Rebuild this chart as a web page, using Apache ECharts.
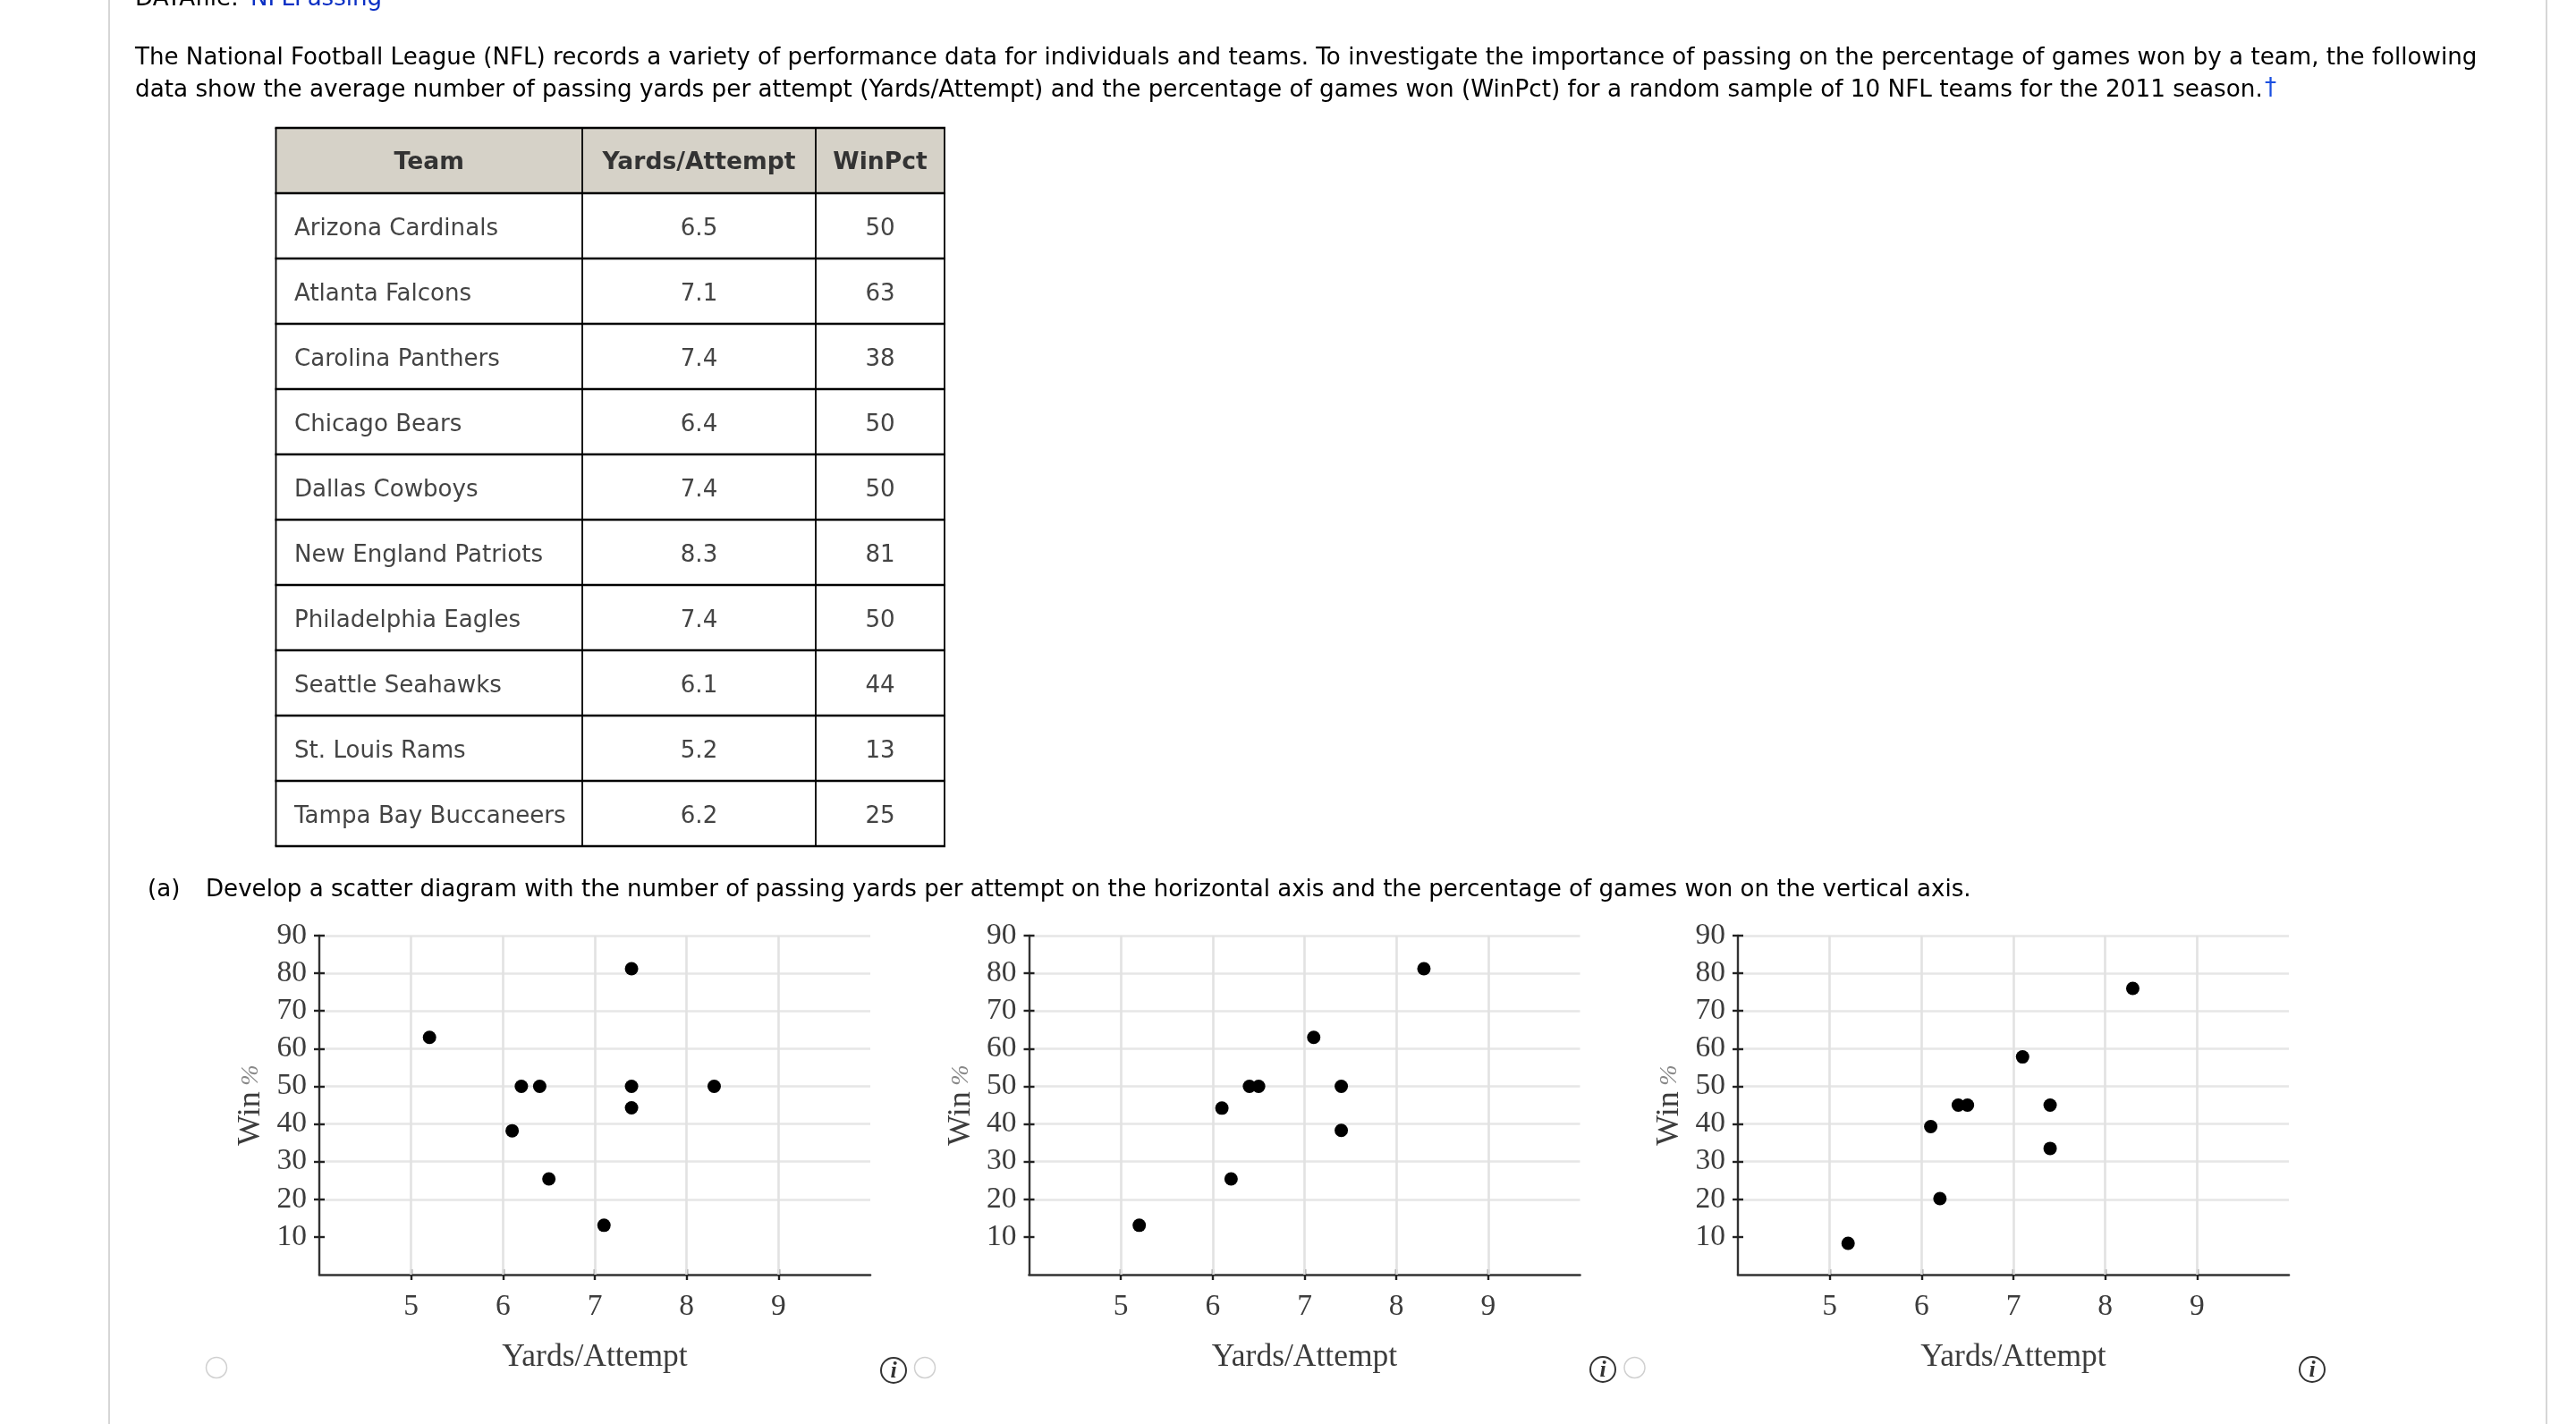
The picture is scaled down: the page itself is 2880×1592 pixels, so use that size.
<!DOCTYPE html>
<html><head><meta charset="utf-8">
<style>html,body{margin:0;padding:0;background:#fff}#c{width:2880px;height:1592px}</style>
<script src="https://cdn.jsdelivr.net/npm/echarts@6/dist/echarts.min.js"></script>
</head><body><div id="c"></div>
<script>
const teams = ['Arizona Cardinals','Atlanta Falcons','Carolina Panthers','Chicago Bears','Dallas Cowboys','New England Patriots','Philadelphia Eagles','Seattle Seahawks','St. Louis Rams','Tampa Bay Buccaneers'];
const yardsPerAttempt = ['6.5','7.1','7.4','6.4','7.4','8.3','7.4','6.1','5.2','6.2'];
const winPct = ['50','63','38','50','50','81','50','44','13','25'];
const tableHeader = ['Team','Yards/Attempt','WinPct'];

const xA = [5.2,6.2,6.4,6.1,6.5,7.1,7.4,7.4,7.4,8.3];
const yA = [63,50,50,38.2,25.4,13.1,81.2,50,44.3,50];
const xB = [6.5,7.1,7.4,6.4,7.4,8.3,6.1,5.2,6.2];
const yB = [50,63,38.3,50,50,81.2,44.2,13.1,25.4];
const xC = [5.2,6.1,6.2,6.4,6.5,7.1,7.4,7.4,8.3];
const yC = [8.3,39.3,20.2,45,45,57.8,45,33.5,76];
const xTicks = [5,6,7,8,9];
const yTicks = [10,20,30,40,50,60,70,80,90];

const intro1 = 'The National Football League (NFL) records a variety of performance data for individuals and teams. To investigate the importance of passing on the percentage of games won by a team, the following';
const intro2 = 'data show the average number of passing yards per attempt (Yards/Attempt) and the percentage of games won (WinPct) for a random sample of 10 NFL teams for the 2011 season.';
const question = 'Develop a scatter diagram with the number of passing yards per attempt on the horizontal axis and the percentage of games won on the vertical axis.';

const SANS = '"DejaVu Sans"', SERIF = '"Liberation Serif"';
const bodySize = 26.1;
const g = [];
function txt(s,x,y,o){o=o||{};g.push({type:'text',x,y,z:10,style:{text:s,fill:o.fill||'#000',textAlign:o.align||'left',textVerticalAlign:'middle',font:(o.weight||'normal')+' '+(o.size||bodySize)+'px '+(o.family||SANS)}});}
function ln(x1,y1,x2,y2,c,w){g.push({type:'line',z:5,shape:{x1,y1,x2,y2},style:{stroke:c,lineWidth:w}});}

ln(122,0,122,1592,'#c8c8c8',1.5);
ln(2847,0,2847,1592,'#c8c8c8',1.5);

txt('DATAfile:',151,-1);
txt('NFLPassing',280,-1,{fill:'#0a2fc4'});
txt(intro1,151,65,{size:26.12});
txt(intro2,151,101,{size:26.24});
txt('†',2532,99,{fill:'#1a4fe0'});

const colX=[308.5,651,912,1056], rowY0=143, rowH=73;
g.push({type:'rect',z:1,shape:{x:colX[0],y:rowY0,width:colX[3]-colX[0],height:rowH},style:{fill:'#d6d2c8'}});
tableHeader.forEach((h,i)=>txt(h,(colX[i]+colX[i+1])/2,rowY0+rowH/2+3,{align:'center',weight:'bold',fill:'#333',size:26.6}));
teams.forEach((t,i)=>{
  const cy=rowY0+rowH*(i+1)+rowH/2+3.5;
  txt(t,329,cy,{fill:'#444'});
  txt(yardsPerAttempt[i],(colX[1]+colX[2])/2,cy,{align:'center',fill:'#444'});
  txt(winPct[i],(colX[2]+colX[3])/2,cy,{align:'center',fill:'#444'});
});
for(let i=0;i<=11;i++) ln(colX[0]-1,rowY0+rowH*i,colX[3]+1,rowY0+rowH*i,'#000',2.6);
colX.forEach(x=>ln(x,rowY0,x,rowY0+rowH*11,'#000',1.8));

txt('(a)',165,995);
txt(question,230,995);

[[242,1529],[1034,1529],[1827.5,1529]].forEach(p=>g.push({type:'circle',z:5,shape:{cx:p[0],cy:p[1],r:11.5},style:{fill:'#fff',stroke:'#d0d0d0',lineWidth:1.5}}));
[[999,1532],[1792,1531],[2585,1531]].forEach(p=>{
  g.push({type:'circle',z:5,shape:{cx:p[0],cy:p[1],r:14},style:{fill:'#fff',stroke:'#333',lineWidth:2}});
  txt('i',p[0],p[1]+1,{align:'center',family:SERIF,size:26,weight:'italic bold',fill:'#333'});
});

const lefts=[357,1150.5,1943], gridTop=1046, W=616, H=379;
const grids=[],xAxes=[],yAxes=[],series=[];
const labelFill='#3c3c3c';
[[xA,yA],[xB,yB],[xC,yC]].forEach((d,i)=>{
  grids.push({left:lefts[i],top:gridTop,width:W,height:H});
  const base={type:'value',gridIndex:i};
  xAxes.push({...base,position:'bottom',min:4,max:10,interval:1,name:'Yards/Attempt',nameLocation:'middle',nameGap:75,
    nameTextStyle:{fontFamily:SERIF,fontSize:35.5,color:labelFill},
    axisLine:{show:true,onZero:false,lineStyle:{color:'#333',width:2.6}},
    axisTick:{show:true,customValues:xTicks,length:6,lineStyle:{color:'#222',width:2.4}},
    axisLabel:{show:true,customValues:xTicks,margin:19.5,fontFamily:SERIF,fontSize:33.5,color:labelFill},
    splitLine:{show:false}});
  xAxes.push({...base,position:'bottom',min:4,max:10,interval:1,axisLine:{show:false,onZero:false},axisLabel:{show:false},splitLine:{show:false},
    axisTick:{show:true,inside:true,customValues:xTicks,length:6,lineStyle:{color:'#222',width:2.4}}});
  yAxes.push({...base,position:'left',min:0,max:90,interval:10,name:'{w|Win}\u00a0{p|%}',nameLocation:'middle',nameGap:58,nameRotate:90,
    nameTextStyle:{fontSize:26,fontFamily:SERIF,rich:{w:{fontFamily:SERIF,fontSize:36,color:labelFill},p:{fontFamily:SERIF,fontSize:28,fontStyle:'italic',color:'#888'}}},
    axisLine:{show:true,onZero:false,lineStyle:{color:'#333',width:2.4}},
    axisTick:{show:true,customValues:yTicks,length:6,lineStyle:{color:'#222',width:2.4}},
    axisLabel:{show:true,customValues:yTicks,margin:14,padding:[7,0,0,0],fontFamily:SERIF,fontSize:33.5,color:labelFill},
    splitLine:{show:true,showMinLine:false,lineStyle:{color:'#e6e6e6',width:2.6}}});
  yAxes.push({...base,position:'left',min:0,max:90,interval:10,axisLine:{show:false,onZero:false},axisLabel:{show:false},splitLine:{show:false},
    axisTick:{show:true,inside:true,customValues:yTicks,length:6,lineStyle:{color:'#222',width:2.4}}});
  series.push({type:'scatter',xAxisIndex:i*2,yAxisIndex:i*2,symbol:'circle',symbolSize:15,z:6,
    itemStyle:{color:'#000',opacity:1},data:d[0].map((x,k)=>[x,d[1][k]]),
    markLine:{silent:true,z:1,symbol:'none',animation:false,label:{show:false},
      lineStyle:{color:'#e2e2e2',width:2.6,type:'solid'},emphasis:{disabled:true},
      data:xTicks.map(v=>({xAxis:v}))}});
});

const chart=echarts.init(document.getElementById('c'),null,{renderer:'canvas'});
chart.setOption({animation:false,backgroundColor:'#fff',grid:grids,xAxis:xAxes,yAxis:yAxes,series,graphic:{elements:g}});
</script></body></html>
